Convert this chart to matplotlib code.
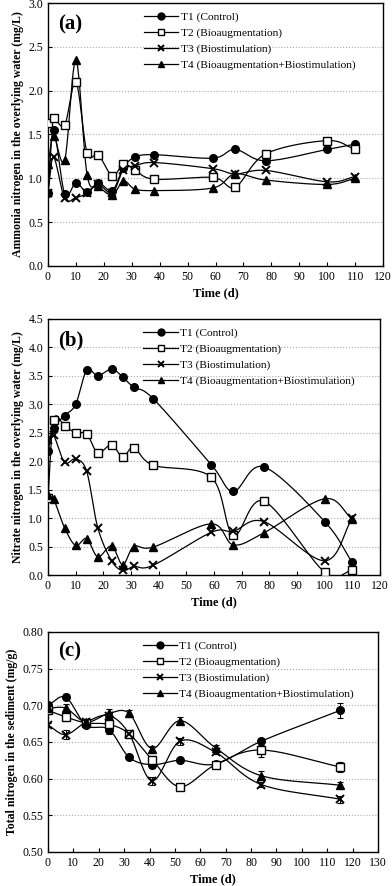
import numpy as np
import matplotlib
matplotlib.use("Agg")
import matplotlib.pyplot as plt
from matplotlib.lines import Line2D

plt.rcParams['font.family'] = ['Liberation Serif', 'DejaVu Serif']

# panel (a) and (b) sampling days
days_ab = [0, 2, 6, 10, 14, 18, 23, 27, 31, 38, 59, 67, 78, 100, 110]

# (a) ammonia nitrogen in overlying water (mg/L)
nh4_t1 = [0.83, 1.55, 0.82, 0.95, 0.84, 0.95, 0.86, 1.12, 1.24, 1.27, 1.23, 1.33, 1.20, 1.33, 1.39]
nh4_t2 = [1.63, 1.69, 1.61, 2.10, 1.29, 1.27, 1.03, 1.16, 1.10, 0.99, 1.01, 0.90, 1.28, 1.43, 1.33]
nh4_t3 = [0.83, 1.24, 0.77, 0.78, 0.83, 0.93, 0.83, 1.10, 1.14, 1.18, 1.11, 1.05, 1.09, 0.96, 1.02]
nh4_t4 = [1.16, 1.48, 1.21, 2.35, 1.04, 0.91, 0.81, 0.97, 0.88, 0.86, 0.89, 1.05, 0.98, 0.93, 1.00]

# (b) nitrate nitrogen in overlying water (mg/L)
no3_t1 = [2.18, 2.58, 2.80, 3.00, 3.60, 3.50, 3.62, 3.48, 3.30, 3.10, 1.94, 1.47, 1.90, 0.94, 0.22]
no3_t2 = [1.36, 2.72, 2.62, 2.50, 2.48, 2.15, 2.29, 2.07, 2.24, 1.93, 1.72, 0.70, 1.30, 0.05, 0.08]
no3_t3 = [2.38, 2.46, 1.98, 2.04, 1.82, 0.83, 0.25, 0.08, 0.15, 0.17, 0.75, 0.77, 0.94, 0.25, 1.00]
no3_t4 = [1.41, 1.34, 0.83, 0.52, 0.64, 0.32, 0.51, 0.18, 0.50, 0.49, 0.90, 0.53, 0.74, 1.34, 0.98]

# (c) total nitrogen in sediment (mg/g)
days_c = [0, 7, 15, 24, 32, 41, 52, 66, 84, 115]
tn_t1 = [0.700, 0.711, 0.673, 0.667, 0.629, 0.619, 0.625, 0.620, 0.651, 0.693]
tn_t2 = [0.693, 0.684, 0.676, 0.674, 0.661, 0.626, 0.589, 0.619, 0.639, 0.616]
tn_t3 = [0.673, 0.660, 0.677, 0.686, 0.661, 0.597, 0.651, 0.636, 0.592, 0.572]
tn_t4 = [0.696, 0.696, 0.677, 0.689, 0.689, 0.641, 0.679, 0.642, 0.604, 0.591]
tn_e1 = [0.004, 0.004, 0.003, 0.006, 0.002, 0.004, 0.003, 0.003, 0.005, 0.010]
tn_e2 = [0.004, 0.004, 0.004, 0.005, 0.003, 0.005, 0.003, 0.003, 0.009, 0.007]
tn_e3 = [0.003, 0.006, 0.003, 0.004, 0.003, 0.005, 0.005, 0.003, 0.004, 0.005]
tn_e4 = [0.004, 0.006, 0.004, 0.006, 0.005, 0.004, 0.005, 0.004, 0.006, 0.004]

labels = ["T1 (Control)", "T2 (Bioaugmentation)", "T3 (Biostimulation)",
          "T4 (Bioaugmentation+Biostimulation)"]
markers = ["o", "s", "x", "^"]
mfaces = ["black", "white", "black", "black"]


def smooth(x, y, n=20):
    # Catmull-Rom curve through the points, only for drawing the line
    x = np.asarray(x, float)
    y = np.asarray(y, float)
    px = np.concatenate([[2 * x[0] - x[1]], x, [2 * x[-1] - x[-2]]])
    py = np.concatenate([[2 * y[0] - y[1]], y, [2 * y[-1] - y[-2]]])
    t = np.linspace(0, 1, n, endpoint=False)
    xs, ys = [], []
    for i in range(1, len(px) - 2):
        for p, out in ((px, xs), (py, ys)):
            p0, p1, p2, p3 = p[i - 1], p[i], p[i + 1], p[i + 2]
            out.extend(0.5 * (2 * p1 + (-p0 + p2) * t
                              + (2 * p0 - 5 * p1 + 4 * p2 - p3) * t ** 2
                              + (-p0 + 3 * p1 - 3 * p2 + p3) * t ** 3))
    xs.append(x[-1])
    ys.append(y[-1])
    return xs, ys


def panel(ax, x, series, errs, ylim, yticks, xlim, xticks, ylabel, tag, msize):
    ax.yaxis.grid(True, color="#aaaaaa", linestyle=":", linewidth=0.8)
    ax.set_axisbelow(True)
    for i, y in enumerate(series):
        sx, sy = smooth(x, y)
        ax.plot(sx, sy, color="black", linewidth=0.9, zorder=2)
        if errs is not None:
            ax.errorbar(x, y, yerr=errs[i], fmt="none", ecolor="black",
                        elinewidth=0.8, capsize=2.5, capthick=0.8, zorder=2)
        ax.plot(x, y, linestyle="none", marker=markers[i], color="black",
                markerfacecolor=mfaces[i], markersize=msize,
                markeredgewidth=1.0 if markers[i] != "x" else 1.4, zorder=3)
    ax.set_xlim(*xlim)
    ax.set_ylim(*ylim)
    ax.set_xticks(xticks)
    ax.set_yticks(yticks)
    ax.tick_params(direction="in", labelsize=8.5, length=3, width=0.8)
    for s in ax.spines.values():
        s.set_linewidth(1.0)
    ax.set_xlabel("Time (d)", fontsize=9, fontweight="bold", labelpad=3)
    ax.set_ylabel(ylabel, fontsize=8.5, fontweight="bold", labelpad=3)
    ax.text(0.03, 0.955, tag, transform=ax.transAxes, fontsize=15,
            fontweight="bold", va="top", ha="left")
    handles = [Line2D([], [], color="black", linewidth=0.9, marker=markers[i],
                      markerfacecolor=mfaces[i], markersize=5,
                      markeredgewidth=1.0 if markers[i] != "x" else 1.4)
               for i in range(4)]
    ax.legend(handles, labels, loc="upper left", bbox_to_anchor=(0.26, 1.0),
              frameon=False, fontsize=8.2, handlelength=3.0, handletextpad=0.2,
              labelspacing=0.5, borderpad=0.3)


fig = plt.figure(figsize=(3.92, 8.86), dpi=100)
ax_a = fig.add_axes([0.1224, 0.6998, 0.855, 0.2968])
ax_b = fig.add_axes([0.1224, 0.351, 0.847, 0.289])
ax_c = fig.add_axes([0.1224, 0.0384, 0.842, 0.2483])

panel(ax_a, days_ab, [nh4_t1, nh4_t2, nh4_t3, nh4_t4], None,
      (0, 3.0), np.arange(0, 3.01, 0.5), (0, 120), np.arange(0, 121, 10),
      "Ammonia nitrogen in the overlying water (mg/L)", "(a)", 5.5)
panel(ax_b, days_ab, [no3_t1, no3_t2, no3_t3, no3_t4], None,
      (0, 4.5), np.arange(0, 4.51, 0.5), (0, 120), np.arange(0, 121, 10),
      "Nitrate nitrogen in the overlying water (mg/L)", "(b)", 5.5)
panel(ax_c, days_c, [tn_t1, tn_t2, tn_t3, tn_t4], [tn_e1, tn_e2, tn_e3, tn_e4],
      (0.5, 0.8), np.arange(0.5, 0.801, 0.05), (0, 130), np.arange(0, 131, 10),
      "Total nitrogen in the sediment (mg/g)", "(c)", 5.5)

for ax in (ax_a, ax_b):
    ax.yaxis.set_major_formatter(matplotlib.ticker.FormatStrFormatter("%.1f"))
ax_c.yaxis.set_major_formatter(matplotlib.ticker.FormatStrFormatter("%.2f"))

fig.savefig("out.png", dpi=100)
